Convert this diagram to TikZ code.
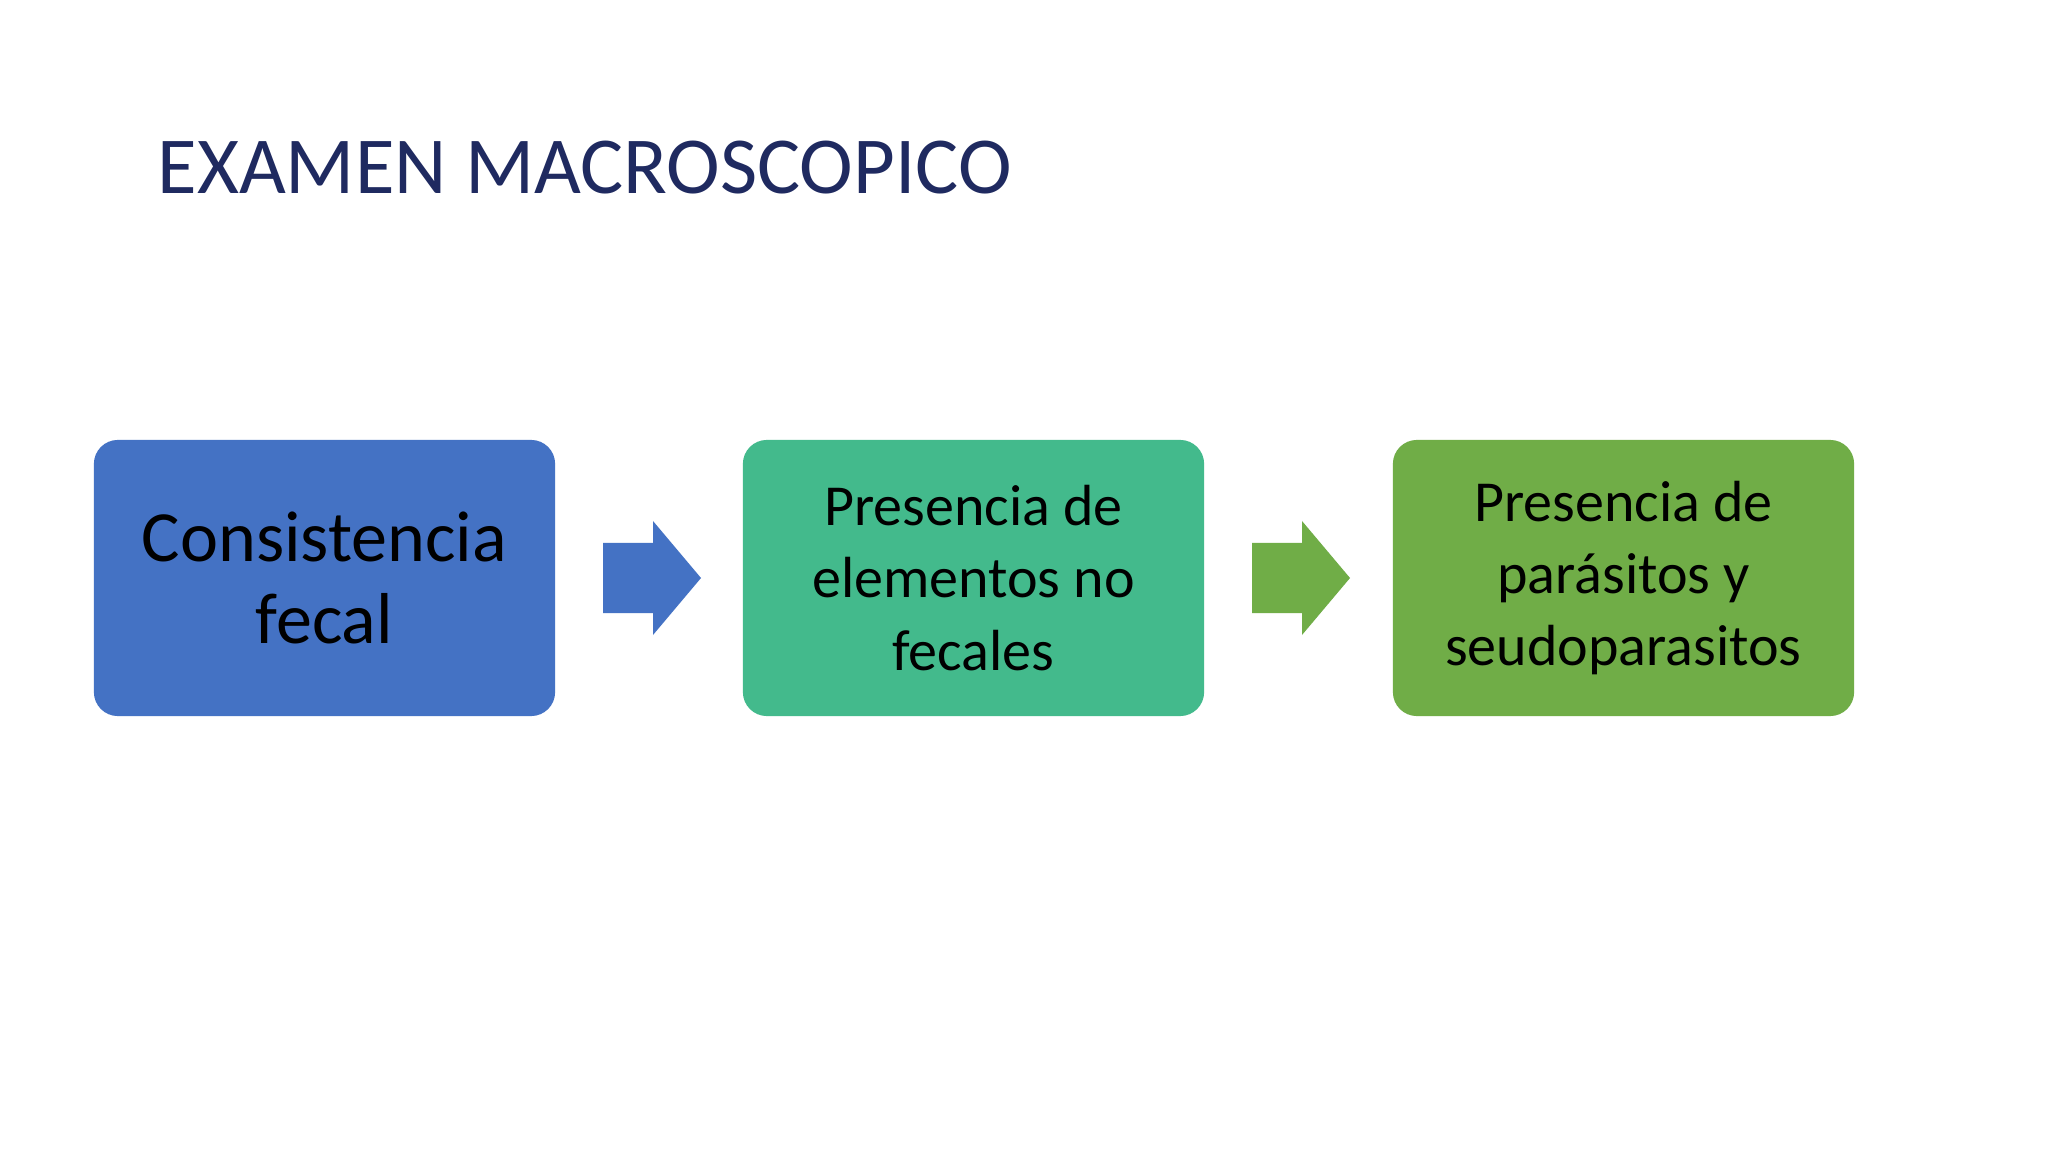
\documentclass[tikz,border=0pt]{standalone}
\usepackage{fontspec}
\setmainfont{Carlito}
\definecolor{navy}{HTML}{1F2A60}
\definecolor{cblue}{HTML}{4472C4}
\definecolor{cteal}{HTML}{43BA8C}
\definecolor{cgreen}{HTML}{70AD47}
\begin{document}
\begin{tikzpicture}[x=0.01cm,y=-0.01cm,
  stepbox/.style={rounded corners=0.24cm,minimum width=4.61cm,minimum height=2.76cm,align=center,text=black,inner sep=0pt},
  chev/.style={draw=none}]
\useasboundingbox[fill=white] (0,0) rectangle (2048,1152);
\node[anchor=west,text=navy,font=\fontsize{23pt}{26pt}\selectfont,inner sep=0pt] (title) at (157,168) {EXAMEN MACROSCOPICO};
\node[stepbox,fill=cblue,font=\fontsize{20.5pt}{23.5pt}\selectfont] (b1) at (324.5,578) {Consistencia\\fecal};
\node[stepbox,fill=cteal,font=\fontsize{16.5pt}{20.5pt}\selectfont] (b2) at (973.5,578) {Presencia de\\elementos no\\fecales};
\node[stepbox,fill=cgreen,font=\fontsize{16.5pt}{20.5pt}\selectfont] (b3) at (1623.5,578) {Presencia de\\parásitos y\\seudoparasitos};
\coordinate (a1) at (603,578);
\coordinate (a2) at (1252,578);
\fill[cblue] (a1) ++(0,-35) -- ++(50,0) -- ++(0,-22) -- ++(48,57) -- ++(-48,57) -- ++(0,-22) -- ++(-50,0) -- cycle;
\fill[cgreen] (a2) ++(0,-35) -- ++(50,0) -- ++(0,-22) -- ++(48,57) -- ++(-48,57) -- ++(0,-22) -- ++(-50,0) -- cycle;
\end{tikzpicture}
\end{document}
